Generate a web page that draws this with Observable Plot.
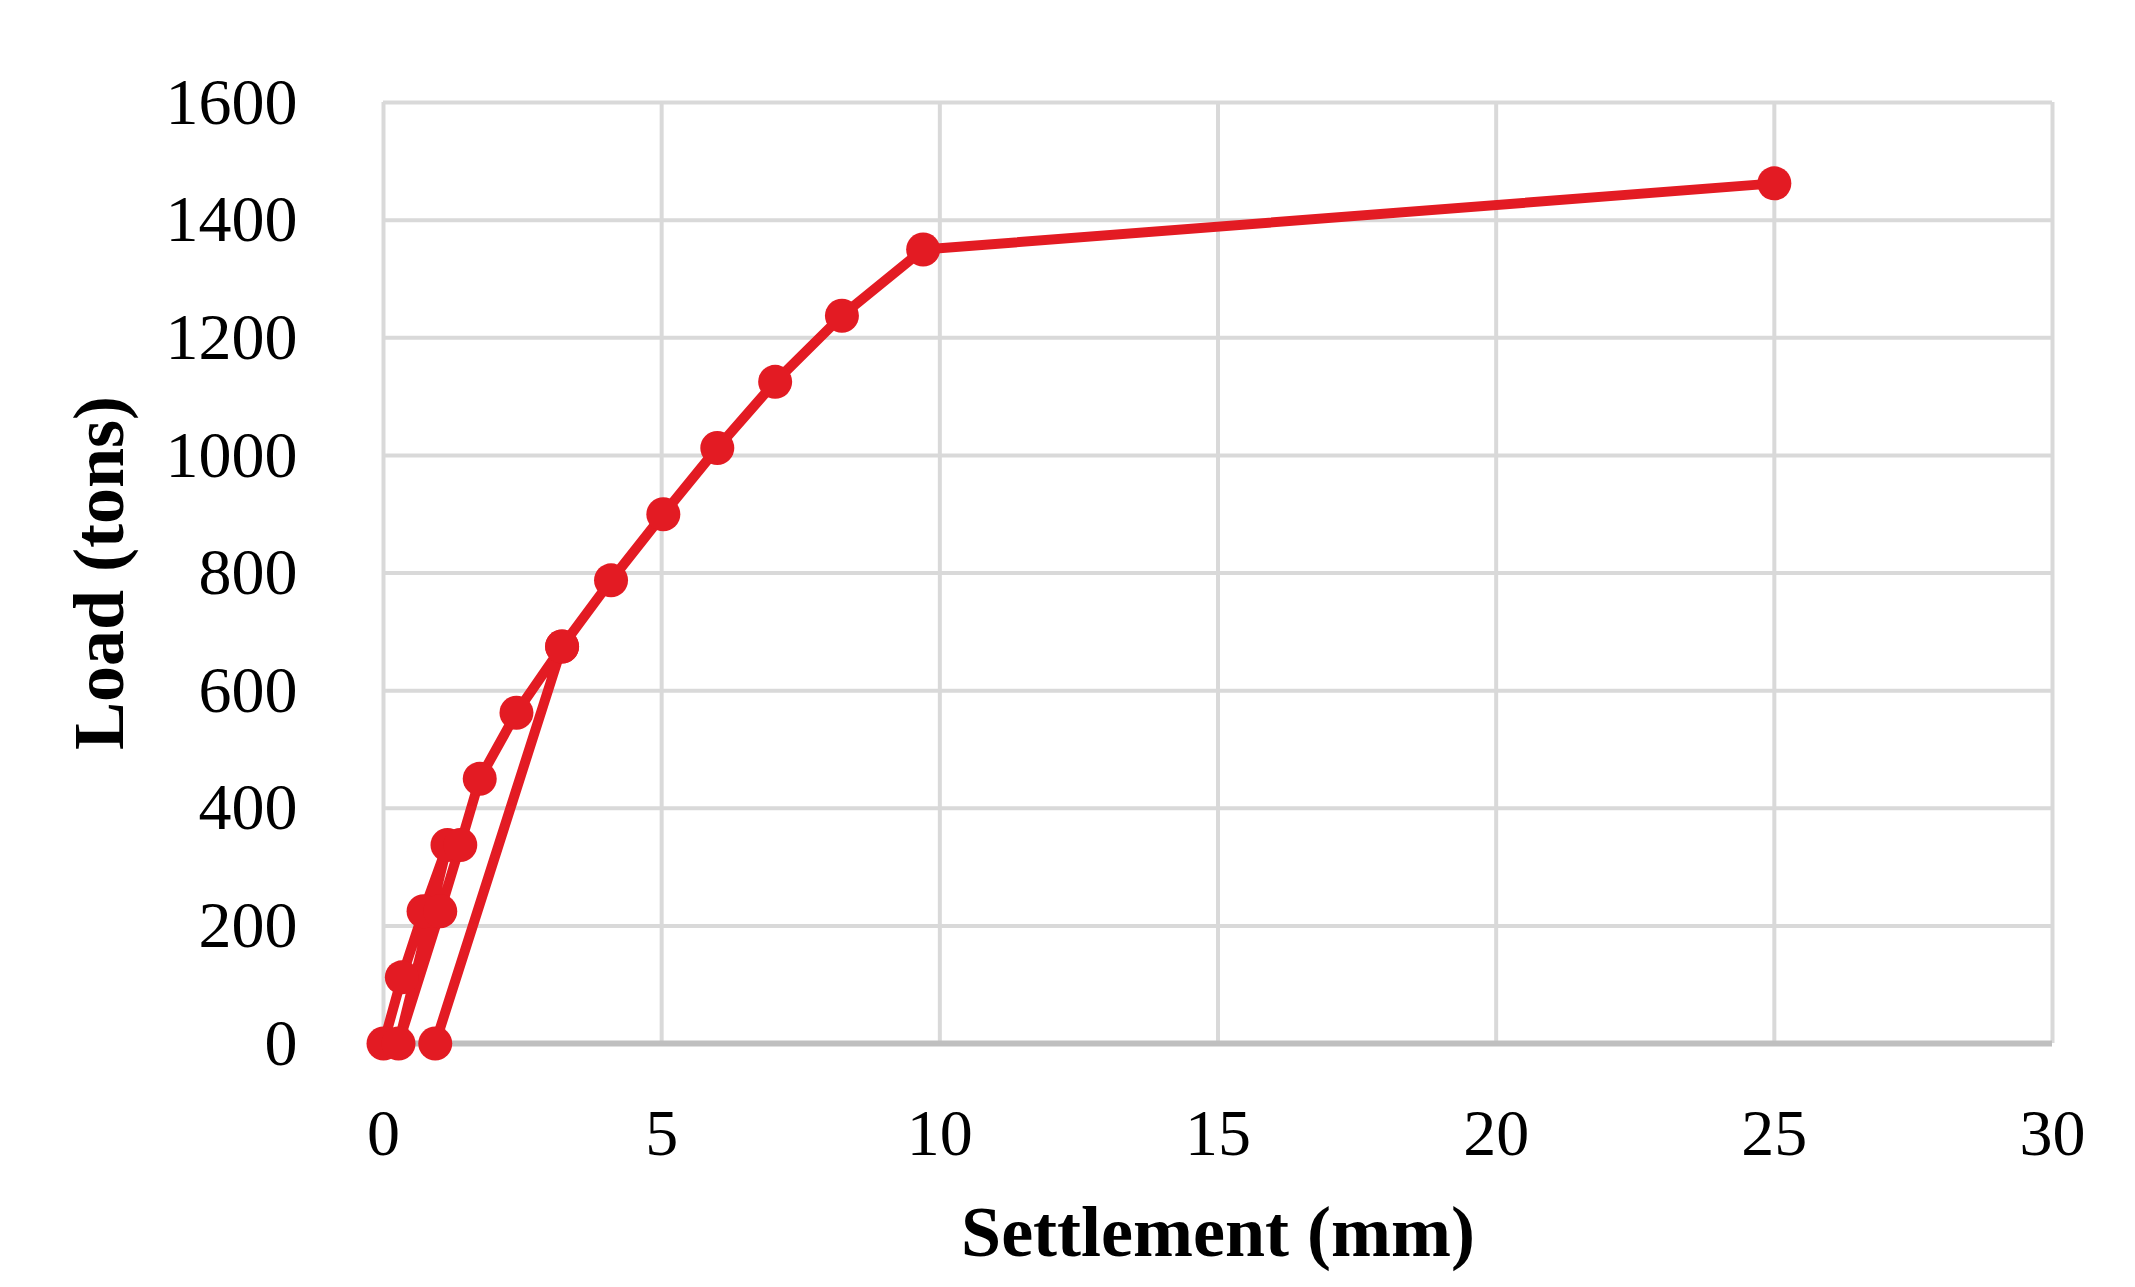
<!DOCTYPE html>
<html>
<head>
<meta charset="utf-8">
<script src="https://cdn.jsdelivr.net/npm/d3@7"></script>
<script src="https://cdn.jsdelivr.net/npm/@observablehq/plot@0.6"></script>
<style>
  html, body { margin: 0; padding: 0; background: #ffffff; }
</style>
</head>
<body>
<div id="chart"></div>
<script>
// Tick values
const xTicks = [0, 5, 10, 15, 20, 25, 30];
const yTicks = [0, 200, 400, 600, 800, 1000, 1200, 1400, 1600];

// Load–settlement series (in test order: loading / unloading cycles)
const settlement = [0, 0.33, 0.72, 1.15, 0.27, 1.02, 1.38, 1.73, 2.39, 3.21, 0.93, 3.21, 4.09, 5.03, 6.00, 7.04, 8.24, 9.70, 25.0];
const load       = [0, 112.5, 225, 337.5, 0, 225, 337.5, 450, 562.5, 675, 0, 675, 787.5, 900, 1012.5, 1125, 1237.5, 1350, 1462.5];

const xTitle = "Settlement (mm)";
const yTitle = "Load (tons)";

const data = settlement.map((s, i) => ({settlement: s, load: load[i]}));
const red = "#e31b23";

const chart = Plot.plot({
  width: 2135,
  height: 1287,
  marginLeft: 383,
  marginRight: 83,
  marginTop: 102,
  marginBottom: 244,
  x: {domain: [0, 30]},
  y: {domain: [0, 1600]},
  style: {
    fontFamily: "'Liberation Serif', 'Times New Roman', serif",
    fontSize: "66px",
    background: "#ffffff",
    color: "#000000"
  },
  marks: [
    Plot.ruleX(xTicks, {stroke: "#d9d9d9", strokeWidth: 4}),
    Plot.ruleY(yTicks, {stroke: "#d9d9d9", strokeWidth: 4}),
    Plot.ruleY([0], {stroke: "#bfbfbf", strokeWidth: 6}),
    Plot.axisX({ticks: xTicks, tickSize: 0, tickPadding: 65, tickFormat: "d", label: null}),
    Plot.axisY({ticks: yTicks, tickSize: 0, tickPadding: 86, tickFormat: "d", label: null}),
    Plot.line(data, {x: "settlement", y: "load", stroke: red, strokeWidth: 10, strokeLinejoin: "round", strokeLinecap: "round"}),
    Plot.dot(data, {x: "settlement", y: "load", r: 17, fill: red}),
    Plot.text([xTitle], {text: d => d, frameAnchor: "bottom", textAnchor: "middle", lineAnchor: "middle", dy: 189, fontSize: 72, fontWeight: "bold"}),
    Plot.text([yTitle], {text: d => d, frameAnchor: "left", textAnchor: "middle", lineAnchor: "middle", dx: -284, rotate: -90, fontSize: 72, fontWeight: "bold"})
  ]
});

document.getElementById("chart").appendChild(chart);
</script>
</body>
</html>
